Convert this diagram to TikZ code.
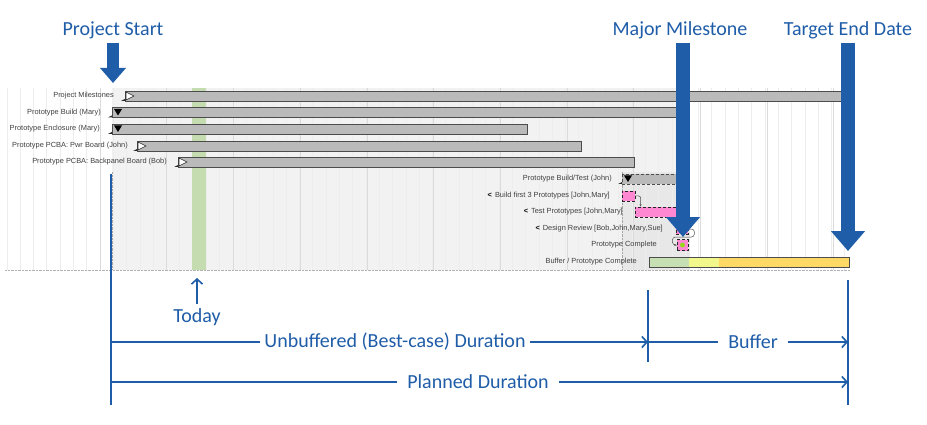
\documentclass[tikz,border=0pt]{standalone}
\usepackage{fontspec}
\setmainfont{Carlito}
\newfontfamily\chartfont{Liberation Sans}
\usetikzlibrary{arrows.meta}

\definecolor{annoblue}{RGB}{31,93,168}
\definecolor{todaygreen}{RGB}{197,219,176}
\definecolor{taskpink}{RGB}{255,136,210}
\definecolor{bufgreen}{RGB}{198,224,180}
\definecolor{bufyellow}{RGB}{242,247,140}
\definecolor{buforange}{RGB}{255,217,102}

\begin{document}
\begin{tikzpicture}[x=1pt, y=-1pt,
  annotext/.style={text=annoblue, font=\fontsize{20}{23}\selectfont, inner sep=4pt},
  annoline/.style={annoblue, line width=1.6pt},
  dimarrow/.style={annoline, -{Straight Barb[length=5pt, width=11pt]}},
  bigarrow/.style={annoblue, line width=14pt, -{Triangle[length=20pt, width=33pt]}},
  rowlabel/.style={anchor=east, text=black!75, font=\chartfont\fontsize{7.4}{8}\selectfont, inner sep=1pt},
  bar/.style={draw=black!70, fill=black!27, line width=0.8pt},
  pinktask/.style={draw=black!85, fill=taskpink, densely dashed, line width=0.8pt, inner sep=0pt, minimum height=10pt},
  link/.style={black!70, line width=0.5pt, -{Stealth[length=2.5pt]}}]
  \useasboundingbox (0,0) rectangle (927,425);
  \fill[white] (0,0) rectangle (927,425);

  % chart area and grid
  \fill[black!5] (112,88) rectangle (690,270);
  \fill[black!9] (622,172) rectangle (690,270);
  \foreach \x in {6.7,20,...,850}
    \draw[black!7, line width=0.4pt] (\x,88) -- (\x,270);
  \foreach \x in {100,166.7,...,840}
    \draw[black!14, line width=0.6pt] (\x,88) -- (\x,270);
  \draw[black!35, densely dotted] (112,172) -- (112,270);
  \draw[black!35, densely dotted] (622,172) -- (622,270);
  \draw[black!30, densely dotted] (5,270) -- (850,270);
  \fill[todaygreen] (192,88) rectangle (206,270);

  % task bars
  \draw[bar] (125,91) rectangle (843,101);
  \draw[bar] (112,107.5) rectangle (688,117.5);
  \draw[bar] (112,124) rectangle (527,134);
  \draw[bar] (137,141) rectangle (581,151);
  \draw[bar] (178,157) rectangle (634,167);
  \draw[bar, densely dashed] (622,174) rectangle (688,184);

  % milestone flags
  \foreach \x/\y in {125/96, 137/146, 178/162} {
    \fill[black!85] (\x-4,\y+5) -- (\x,\y+3) -- (\x,\y+5) -- cycle;
    \filldraw[fill=white, draw=black!85, line width=0.6pt] (\x+1,\y-4) -- (\x+9,\y) -- (\x+1,\y+4) -- cycle;
  }
  \foreach \x/\y in {112/112.5, 112/129, 622/179} {
    \fill[black!85] (\x-4,\y+5) -- (\x,\y+3) -- (\x,\y+5) -- cycle;
    \fill[black] (\x+2,\y-3.5) -- (\x+10,\y-3.5) -- (\x+6,\y+3) -- cycle;
  }

  % row labels
  \node[rowlabel] (lmile) at (115,96) {Project Milestones};
  \node[rowlabel] (lbuild) at (102,112.5) {Prototype Build (Mary)};
  \node[rowlabel] (lencl) at (101,129) {Prototype Enclosure (Mary)};
  \node[rowlabel] (lpwr) at (129,146) {Prototype PCBA: Pwr Board (John)};
  \node[rowlabel] (lback) at (168,162) {Prototype PCBA: Backpanel Board (Bob)};
  \node[rowlabel] (ltest) at (613,179) {Prototype Build/Test (John)};
  \node[rowlabel] (lfirst) at (611,196) {{\color{black}\textbf{<}}\hspace{3pt}Build first 3 Prototypes [John,Mary]};
  \node[rowlabel] (ltestp) at (624,212) {{\color{black}\textbf{<}}\hspace{3pt}Test Prototypes [John,Mary]};
  \node[rowlabel] (lreview) at (664,229) {{\color{black}\textbf{<}}\hspace{3pt}Design Review [Bob,John,Mary,Sue]};
  \node[rowlabel] (ldone) at (658,245) {Prototype Complete};
  \node[rowlabel] (lbuffer) at (638,262) {Buffer / Prototype Complete};

  % prototype tasks
  \node[pinktask, minimum width=13pt] (first) at (628.5,196) {};
  \node[pinktask, minimum width=53pt] (testp) at (661.5,212) {};
  \node[pinktask, minimum width=12pt] (review) at (682,229) {};
  \node[pinktask, minimum width=11pt, minimum height=11pt] (done) at (682.5,245) {};
  \fill[yellow!60!green] (done.center) circle (2.5pt);
  \draw[link, rounded corners=2pt] (first.east) -| ([xshift=6pt]testp.north west);
  \draw[link, rounded corners=3pt] (review.east) -- ++(6,0) |- ++(-22,8) |- (done.west);

  % buffer bar
  \fill[bufgreen] (649,257) rectangle (689,267);
  \fill[bufyellow] (689,257) rectangle (719,267);
  \fill[buforange] (719,257) rectangle (849,267);
  \draw[black!70, line width=0.8pt] (649,257) rectangle (849,267);

  % callouts
  \node[annotext] (pstart) at (113,30) {Project Start};
  \node[annotext] (major) at (680,30) {Major Milestone};
  \node[annotext] (target) at (848,30) {Target End Date};
  \coordinate (pstartTip) at (113,83);
  \coordinate (majorTip) at (683,237);
  \coordinate (targetTip) at (848,251);
  \draw[bigarrow, line width=12pt, -{Triangle[length=15pt, width=25pt]}] (pstart.south) -- (pstartTip);
  \draw[bigarrow] (major.south -| majorTip) -- (majorTip);
  \draw[bigarrow] (target.south -| targetTip) -- (targetTip);

  % durations
  \coordinate (startTop) at (111,174);
  \coordinate (startBot) at (111,405);
  \coordinate (midTop) at (648,290);
  \coordinate (midBot) at (648,362);
  \coordinate (endTop) at (848,280);
  \coordinate (endBot) at (848,405);
  \draw[annoline] (startTop) -- (startBot);
  \draw[annoline] (midTop) -- (midBot);
  \draw[annoline] (endTop) -- (endBot);

  \node[annotext] (today) at (197,317) {Today};
  \coordinate (todayTip) at (197,278);
  \draw[dimarrow] (today.north) -- (todayTip);

  \node[annotext] (unbuf) at (395,342) {Unbuffered (Best-case) Duration};
  \draw[annoline] (startTop |- unbuf) -- (unbuf.west);
  \draw[dimarrow] (unbuf.east) -- (midTop |- unbuf);
  \node[annotext, inner xsep=10pt] (buffer) at (753,342) {Buffer};
  \draw[annoline] (midTop |- buffer) -- (buffer.west);
  \draw[dimarrow] (buffer.east) -- (endTop |- buffer);
  \node[annotext, inner xsep=10pt] (planned) at (478,382) {Planned Duration};
  \draw[annoline] (startTop |- planned) -- (planned.west);
  \draw[dimarrow] (planned.east) -- (endTop |- planned);
\end{tikzpicture}
\end{document}
